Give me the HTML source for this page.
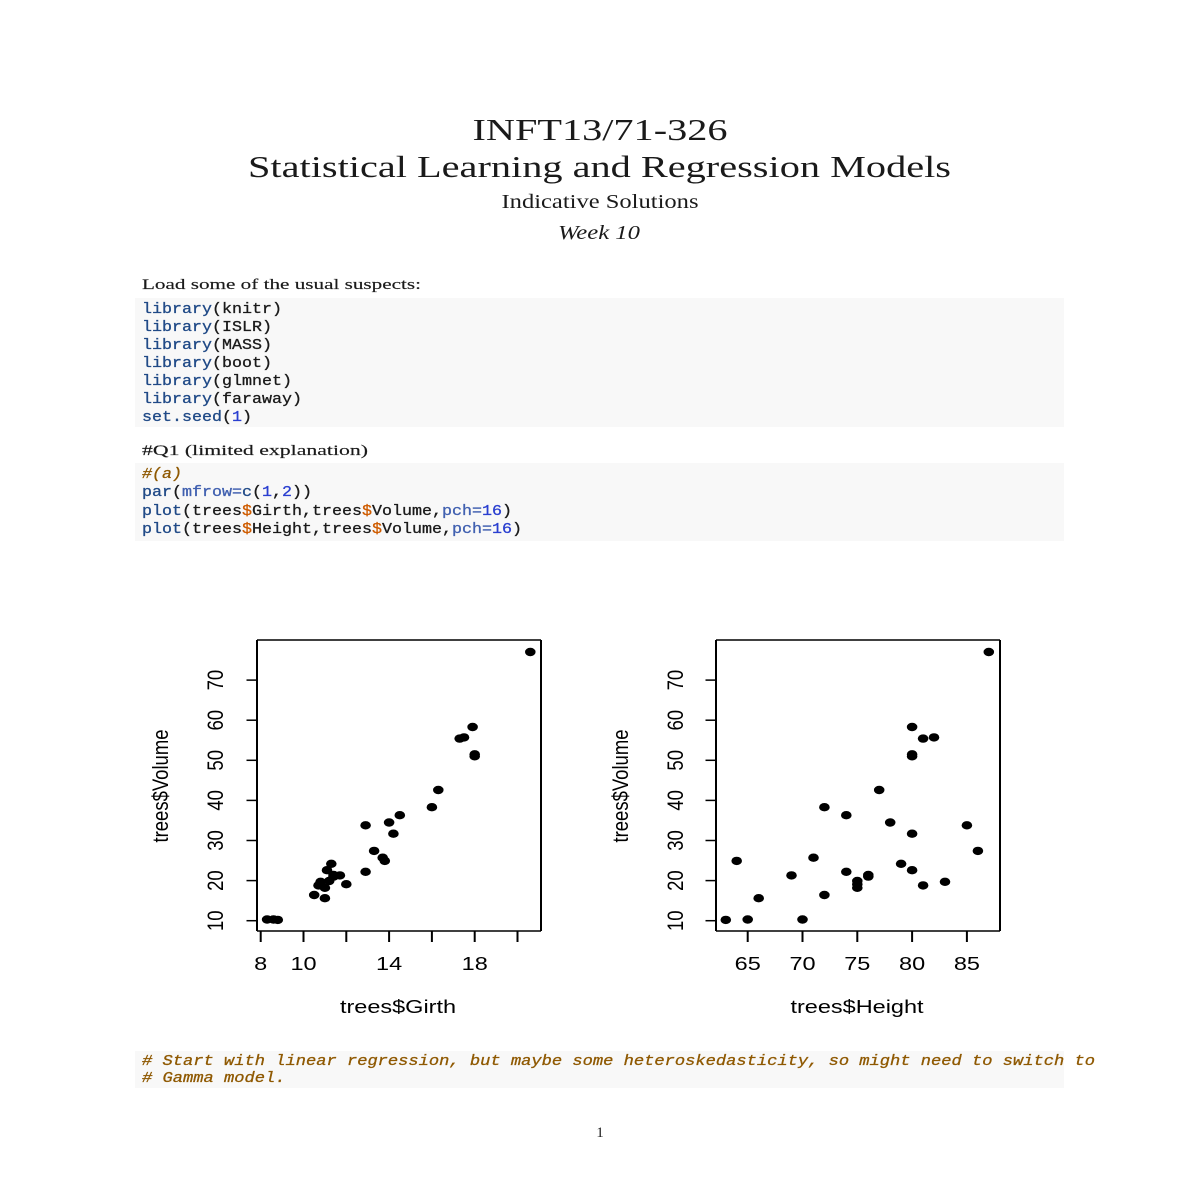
<!DOCTYPE html>
<html>
<head>
<meta charset="utf-8">
<style>
html,body{margin:0;padding:0;background:#fff;}
svg{display:block;}
.serif{font-family:"Liberation Serif",serif;fill:#1a1a1a;}
.body{stroke:#1a1a1a;stroke-width:0.15px;}
.mono{font-family:"Liberation Mono",monospace;font-size:15px;fill:#1a1a1a;stroke:#1a1a1a;stroke-width:0.3px;}
.fn{fill:#204a87;stroke:#204a87;}
.arg{fill:#4060b0;stroke:#4060b0;}
.num{fill:#2a3fd0;stroke:#2a3fd0;}
.dol{fill:#ce5c00;stroke:#ce5c00;}
.com{fill:#8f5902;stroke:#8f5902;font-style:italic;}
.sans{font-family:"Liberation Sans",sans-serif;fill:#000;}
</style>
</head>
<body>
<svg width="1200" height="1200" viewBox="0 0 1200 1200" xmlns="http://www.w3.org/2000/svg">
<rect width="1200" height="1200" fill="#fff"/>

<!-- Title -->
<text class="serif" x="600" y="140" font-size="31" text-anchor="middle" textLength="255" lengthAdjust="spacingAndGlyphs">INFT13/71-326</text>
<text class="serif" x="599.5" y="177" font-size="31" text-anchor="middle" textLength="703" lengthAdjust="spacingAndGlyphs">Statistical Learning and Regression Models</text>
<text class="serif" x="600" y="208" font-size="20" text-anchor="middle" textLength="197" lengthAdjust="spacingAndGlyphs">Indicative Solutions</text>
<text class="serif" x="599" y="239" font-size="20" font-style="italic" text-anchor="middle" textLength="82" lengthAdjust="spacingAndGlyphs">Week 10</text>

<!-- Body text -->
<text class="serif body" x="142" y="289" font-size="15" textLength="279" lengthAdjust="spacingAndGlyphs">Load some of the usual suspects:</text>

<rect x="135" y="298" width="929" height="129" fill="#f8f8f8"/>
<text class="mono" x="142" y="313" textLength="140" lengthAdjust="spacingAndGlyphs"><tspan class="fn">library</tspan>(knitr)</text>
<text class="mono" x="142" y="331" textLength="130" lengthAdjust="spacingAndGlyphs"><tspan class="fn">library</tspan>(ISLR)</text>
<text class="mono" x="142" y="349" textLength="130" lengthAdjust="spacingAndGlyphs"><tspan class="fn">library</tspan>(MASS)</text>
<text class="mono" x="142" y="367" textLength="130" lengthAdjust="spacingAndGlyphs"><tspan class="fn">library</tspan>(boot)</text>
<text class="mono" x="142" y="385" textLength="150" lengthAdjust="spacingAndGlyphs"><tspan class="fn">library</tspan>(glmnet)</text>
<text class="mono" x="142" y="403" textLength="160" lengthAdjust="spacingAndGlyphs"><tspan class="fn">library</tspan>(faraway)</text>
<text class="mono" x="142" y="421" textLength="110" lengthAdjust="spacingAndGlyphs"><tspan class="fn">set.seed</tspan>(<tspan class="num">1</tspan>)</text>

<text class="serif body" x="142" y="455" font-size="15" textLength="226" lengthAdjust="spacingAndGlyphs">#Q1 (limited explanation)</text>

<rect x="135" y="463" width="929" height="78" fill="#f8f8f8"/>
<text class="mono com" x="142" y="478" textLength="40" lengthAdjust="spacingAndGlyphs">#(a)</text>
<text class="mono" x="142" y="496" textLength="170" lengthAdjust="spacingAndGlyphs"><tspan class="fn">par</tspan>(<tspan class="arg">mfrow=</tspan><tspan class="fn">c</tspan>(<tspan class="num">1</tspan>,<tspan class="num">2</tspan>))</text>
<text class="mono" x="142" y="515" textLength="370" lengthAdjust="spacingAndGlyphs"><tspan class="fn">plot</tspan>(trees<tspan class="dol">$</tspan>Girth,trees<tspan class="dol">$</tspan>Volume,<tspan class="arg">pch=</tspan><tspan class="num">16</tspan>)</text>
<text class="mono" x="142" y="533" textLength="380" lengthAdjust="spacingAndGlyphs"><tspan class="fn">plot</tspan>(trees<tspan class="dol">$</tspan>Height,trees<tspan class="dol">$</tspan>Volume,<tspan class="arg">pch=</tspan><tspan class="num">16</tspan>)</text>

<!-- Left plot -->
<g stroke="#000" fill="none">
  <line x1="257" y1="640" x2="541" y2="640" stroke-width="1.5"/>
  <line x1="257" y1="931" x2="541" y2="931" stroke-width="1.5"/>
  <line x1="257" y1="640" x2="257" y2="931" stroke-width="2"/>
  <line x1="541" y1="640" x2="541" y2="931" stroke-width="2"/>
  <line x1="260.7" y1="931" x2="260.7" y2="942" stroke-width="2"/>
  <line x1="303.5" y1="931" x2="303.5" y2="942" stroke-width="2"/>
  <line x1="346.3" y1="931" x2="346.3" y2="942" stroke-width="2"/>
  <line x1="389.1" y1="931" x2="389.1" y2="942" stroke-width="2"/>
  <line x1="431.9" y1="931" x2="431.9" y2="942" stroke-width="2"/>
  <line x1="474.7" y1="931" x2="474.7" y2="942" stroke-width="2"/>
  <line x1="517.5" y1="931" x2="517.5" y2="942" stroke-width="2"/>
  <line x1="246.5" y1="920.7" x2="257" y2="920.7" stroke-width="1.5"/>
  <line x1="246.5" y1="880.6" x2="257" y2="880.6" stroke-width="1.5"/>
  <line x1="246.5" y1="840.5" x2="257" y2="840.5" stroke-width="1.5"/>
  <line x1="246.5" y1="800.4" x2="257" y2="800.4" stroke-width="1.5"/>
  <line x1="246.5" y1="760.3" x2="257" y2="760.3" stroke-width="1.5"/>
  <line x1="246.5" y1="720.2" x2="257" y2="720.2" stroke-width="1.5"/>
  <line x1="246.5" y1="680.1" x2="257" y2="680.1" stroke-width="1.5"/>
</g>
<g class="sans" font-size="18.5" text-anchor="middle">
  <text transform="translate(260.7,970) scale(1.27,1)">8</text>
  <text transform="translate(303.5,970) scale(1.27,1)">10</text>
  <text transform="translate(389.1,970) scale(1.27,1)">14</text>
  <text transform="translate(474.7,970) scale(1.27,1)">18</text>
  <text transform="translate(398,1013) scale(1.27,1)">trees$Girth</text>
  <text transform="translate(223,920.7) scale(1.18,1) rotate(-90)">10</text>
  <text transform="translate(223,880.6) scale(1.18,1) rotate(-90)">20</text>
  <text transform="translate(223,840.5) scale(1.18,1) rotate(-90)">30</text>
  <text transform="translate(223,800.4) scale(1.18,1) rotate(-90)">40</text>
  <text transform="translate(223,760.3) scale(1.18,1) rotate(-90)">50</text>
  <text transform="translate(223,720.2) scale(1.18,1) rotate(-90)">60</text>
  <text transform="translate(223,680.1) scale(1.18,1) rotate(-90)">70</text>
  <text transform="translate(168,786) scale(1.22,1) rotate(-90)">trees$Volume</text>
</g>
<g fill="#000">
  <ellipse cx="267.1" cy="919.5" rx="5.3" ry="4.2"/>
  <ellipse cx="273.5" cy="919.5" rx="5.3" ry="4.2"/>
  <ellipse cx="277.8" cy="919.9" rx="5.3" ry="4.2"/>
  <ellipse cx="314.2" cy="895.0" rx="5.3" ry="4.2"/>
  <ellipse cx="318.5" cy="885.4" rx="5.3" ry="4.2"/>
  <ellipse cx="320.6" cy="881.8" rx="5.3" ry="4.2"/>
  <ellipse cx="324.9" cy="898.2" rx="5.3" ry="4.2"/>
  <ellipse cx="324.9" cy="887.8" rx="5.3" ry="4.2"/>
  <ellipse cx="327.0" cy="870.2" rx="5.3" ry="4.2"/>
  <ellipse cx="329.2" cy="881.0" rx="5.3" ry="4.2"/>
  <ellipse cx="331.3" cy="863.8" rx="5.3" ry="4.2"/>
  <ellipse cx="333.5" cy="876.6" rx="5.3" ry="4.2"/>
  <ellipse cx="333.5" cy="875.0" rx="5.3" ry="4.2"/>
  <ellipse cx="339.9" cy="875.4" rx="5.3" ry="4.2"/>
  <ellipse cx="346.3" cy="884.2" rx="5.3" ry="4.2"/>
  <ellipse cx="365.6" cy="871.8" rx="5.3" ry="4.2"/>
  <ellipse cx="365.6" cy="825.3" rx="5.3" ry="4.2"/>
  <ellipse cx="374.1" cy="850.9" rx="5.3" ry="4.2"/>
  <ellipse cx="382.7" cy="857.7" rx="5.3" ry="4.2"/>
  <ellipse cx="384.8" cy="860.9" rx="5.3" ry="4.2"/>
  <ellipse cx="389.1" cy="822.5" rx="5.3" ry="4.2"/>
  <ellipse cx="393.4" cy="833.7" rx="5.3" ry="4.2"/>
  <ellipse cx="399.8" cy="815.2" rx="5.3" ry="4.2"/>
  <ellipse cx="431.9" cy="807.2" rx="5.3" ry="4.2"/>
  <ellipse cx="438.3" cy="790.0" rx="5.3" ry="4.2"/>
  <ellipse cx="459.7" cy="738.6" rx="5.3" ry="4.2"/>
  <ellipse cx="464.0" cy="737.4" rx="5.3" ry="4.2"/>
  <ellipse cx="472.6" cy="727.0" rx="5.3" ry="4.2"/>
  <ellipse cx="474.7" cy="754.3" rx="5.3" ry="4.2"/>
  <ellipse cx="474.7" cy="756.3" rx="5.3" ry="4.2"/>
  <ellipse cx="530.3" cy="652.0" rx="5.3" ry="4.2"/>
</g>

<!-- Right plot -->
<g stroke="#000" fill="none">
  <line x1="716" y1="640" x2="1000" y2="640" stroke-width="1.5"/>
  <line x1="716" y1="931" x2="1000" y2="931" stroke-width="1.5"/>
  <line x1="716" y1="640" x2="716" y2="931" stroke-width="2"/>
  <line x1="1000" y1="640" x2="1000" y2="931" stroke-width="2"/>
  <line x1="747.7" y1="931" x2="747.7" y2="942" stroke-width="2"/>
  <line x1="802.5" y1="931" x2="802.5" y2="942" stroke-width="2"/>
  <line x1="857.3" y1="931" x2="857.3" y2="942" stroke-width="2"/>
  <line x1="912.1" y1="931" x2="912.1" y2="942" stroke-width="2"/>
  <line x1="966.9" y1="931" x2="966.9" y2="942" stroke-width="2"/>
  <line x1="705.5" y1="920.7" x2="716" y2="920.7" stroke-width="1.5"/>
  <line x1="705.5" y1="880.6" x2="716" y2="880.6" stroke-width="1.5"/>
  <line x1="705.5" y1="840.5" x2="716" y2="840.5" stroke-width="1.5"/>
  <line x1="705.5" y1="800.4" x2="716" y2="800.4" stroke-width="1.5"/>
  <line x1="705.5" y1="760.3" x2="716" y2="760.3" stroke-width="1.5"/>
  <line x1="705.5" y1="720.2" x2="716" y2="720.2" stroke-width="1.5"/>
  <line x1="705.5" y1="680.1" x2="716" y2="680.1" stroke-width="1.5"/>
</g>
<g class="sans" font-size="18.5" text-anchor="middle">
  <text transform="translate(747.7,970) scale(1.27,1)">65</text>
  <text transform="translate(802.5,970) scale(1.27,1)">70</text>
  <text transform="translate(857.3,970) scale(1.27,1)">75</text>
  <text transform="translate(912.1,970) scale(1.27,1)">80</text>
  <text transform="translate(966.9,970) scale(1.27,1)">85</text>
  <text transform="translate(857,1013) scale(1.27,1)">trees$Height</text>
  <text transform="translate(683,920.7) scale(1.18,1) rotate(-90)">10</text>
  <text transform="translate(683,880.6) scale(1.18,1) rotate(-90)">20</text>
  <text transform="translate(683,840.5) scale(1.18,1) rotate(-90)">30</text>
  <text transform="translate(683,800.4) scale(1.18,1) rotate(-90)">40</text>
  <text transform="translate(683,760.3) scale(1.18,1) rotate(-90)">50</text>
  <text transform="translate(683,720.2) scale(1.18,1) rotate(-90)">60</text>
  <text transform="translate(683,680.1) scale(1.18,1) rotate(-90)">70</text>
  <text transform="translate(628,786) scale(1.22,1) rotate(-90)">trees$Volume</text>
</g>
<g fill="#000">
  <ellipse cx="802.5" cy="919.5" rx="5.3" ry="4.2"/>
  <ellipse cx="747.7" cy="919.5" rx="5.3" ry="4.2"/>
  <ellipse cx="725.8" cy="919.9" rx="5.3" ry="4.2"/>
  <ellipse cx="824.4" cy="895.0" rx="5.3" ry="4.2"/>
  <ellipse cx="923.1" cy="885.4" rx="5.3" ry="4.2"/>
  <ellipse cx="945.0" cy="881.8" rx="5.3" ry="4.2"/>
  <ellipse cx="758.7" cy="898.2" rx="5.3" ry="4.2"/>
  <ellipse cx="857.3" cy="887.8" rx="5.3" ry="4.2"/>
  <ellipse cx="912.1" cy="870.2" rx="5.3" ry="4.2"/>
  <ellipse cx="857.3" cy="881.0" rx="5.3" ry="4.2"/>
  <ellipse cx="901.1" cy="863.8" rx="5.3" ry="4.2"/>
  <ellipse cx="868.3" cy="876.6" rx="5.3" ry="4.2"/>
  <ellipse cx="868.3" cy="875.0" rx="5.3" ry="4.2"/>
  <ellipse cx="791.5" cy="875.4" rx="5.3" ry="4.2"/>
  <ellipse cx="857.3" cy="884.2" rx="5.3" ry="4.2"/>
  <ellipse cx="846.3" cy="871.8" rx="5.3" ry="4.2"/>
  <ellipse cx="966.9" cy="825.3" rx="5.3" ry="4.2"/>
  <ellipse cx="977.9" cy="850.9" rx="5.3" ry="4.2"/>
  <ellipse cx="813.5" cy="857.7" rx="5.3" ry="4.2"/>
  <ellipse cx="736.7" cy="860.9" rx="5.3" ry="4.2"/>
  <ellipse cx="890.2" cy="822.5" rx="5.3" ry="4.2"/>
  <ellipse cx="912.1" cy="833.7" rx="5.3" ry="4.2"/>
  <ellipse cx="846.3" cy="815.2" rx="5.3" ry="4.2"/>
  <ellipse cx="824.4" cy="807.2" rx="5.3" ry="4.2"/>
  <ellipse cx="879.2" cy="790.0" rx="5.3" ry="4.2"/>
  <ellipse cx="923.1" cy="738.6" rx="5.3" ry="4.2"/>
  <ellipse cx="934.0" cy="737.4" rx="5.3" ry="4.2"/>
  <ellipse cx="912.1" cy="727.0" rx="5.3" ry="4.2"/>
  <ellipse cx="912.1" cy="754.3" rx="5.3" ry="4.2"/>
  <ellipse cx="912.1" cy="756.3" rx="5.3" ry="4.2"/>
  <ellipse cx="988.8" cy="652.0" rx="5.3" ry="4.2"/>
</g>

<!-- Final comment block -->
<rect x="135" y="1051" width="929" height="37" fill="#f8f8f8"/>
<text class="mono com" x="142" y="1065" textLength="953" lengthAdjust="spacingAndGlyphs"># Start with linear regression, but maybe some heteroskedasticity, so might need to switch to</text>
<text class="mono com" x="142" y="1082" textLength="143.5" lengthAdjust="spacingAndGlyphs"># Gamma model.</text>

<!-- Page number -->
<text class="serif" x="600" y="1137" font-size="15" text-anchor="middle">1</text>
</svg>
</body>
</html>
